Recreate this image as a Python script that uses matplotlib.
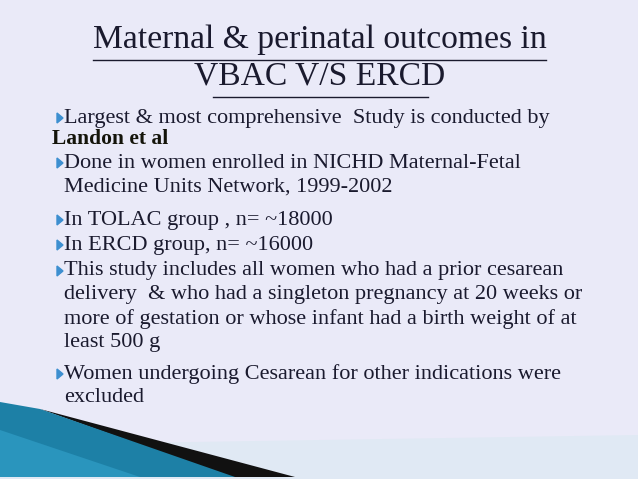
import matplotlib
matplotlib.use("Agg")
import matplotlib.pyplot as plt
from matplotlib.patches import Polygon

title_lines = ["Maternal & perinatal outcomes in", "VBAC V/S ERCD"]
bullets = [
    (True, ["Largest & most comprehensive  Study is conducted by"]),
    (False, ["Landon et al"]),
    (True, ["Done in women enrolled in NICHD Maternal-Fetal", "Medicine Units Network, 1999-2002"]),
    (True, ["In TOLAC group , n= ~18000"]),
    (True, ["In ERCD group, n= ~16000"]),
    (True, ["This study includes all women who had a prior cesarean",
            "delivery  & who had a singleton pregnancy at 20 weeks or",
            "more of gestation or whose infant had a birth weight of at",
            "least 500 g"]),
    (True, ["Women undergoing Cesarean for other indications were", "excluded"]),
]

W, H = 638, 479
bg = "#eaeaf8"
fig = plt.figure(figsize=(W/100, H/100), dpi=100)
fig.patch.set_facecolor(bg)
ax = fig.add_axes([0, 0, 1, 1])
ax.set_xlim(0, W); ax.set_ylim(H, 0); ax.axis("off")

font = "Liberation Serif"
ax.text(320, 40, title_lines[0], ha="center", va="center", fontsize=24.2, color="#1a1a2e", family=font)
ax.plot([93, 546], [60, 60], color="#1a1a2e", lw=1)
ax.text(320, 76, title_lines[1], ha="center", va="center", fontsize=24.2, color="#1a1a2e", family=font)
ax.plot([213, 428], [97, 97], color="#1a1a2e", lw=1)

starts = [118, 139, 163, 220, 245, 271, 374]
lh = 24
for (bullet, lines), y in zip(bullets, starts):
    if bullet:
        ax.add_patch(Polygon([[57, y-5], [57, y+5], [63, y]], closed=True, color="#3d8fd0"))
        for ln in lines:
            ax.text(64, y, ln, ha="left", va="center", fontsize=16, color="#1a1a2e", family=font)
            y += lh
    else:
        ax.text(52, y, lines[0], ha="left", va="center", fontsize=15.5, color="#14140a",
                family=font, fontweight="bold")

# bottom-left swoosh
ax.add_patch(Polygon([[638, 435], [638, 479], [0, 479], [0, 445]], closed=True, color="#e0e9f4", lw=0))
ax.add_patch(Polygon([[40, 409], [295, 477], [230, 477]], closed=True, color="#111111", lw=0))
ax.add_patch(Polygon([[0, 402], [40, 409], [235, 477], [0, 477]], closed=True, color="#1d80a6", lw=0))
ax.add_patch(Polygon([[0, 430], [140, 477], [0, 477]], closed=True, color="#2a95bd", lw=0))

fig.savefig("out.png", dpi=100, facecolor=fig.get_facecolor())
